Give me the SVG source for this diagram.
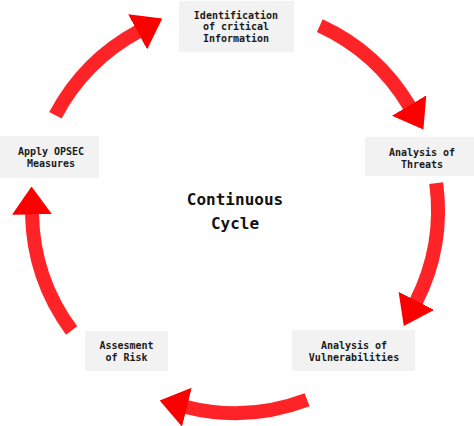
<svg xmlns="http://www.w3.org/2000/svg" width="474" height="426" viewBox="0 0 474 426">
<style>
.box{fill:#f2f2f2}
.lbl{font-family:"DejaVu Sans Mono","Liberation Mono",monospace;font-weight:bold;font-size:10px;fill:#1a1a1a;text-anchor:middle}
.ctr{font-family:"DejaVu Sans Mono","Liberation Mono",monospace;font-weight:bold;font-size:16px;fill:#111;text-anchor:middle}
.arc{fill:none;stroke:#fd2326;stroke-width:14;marker-end:url(#head)}
</style>
<defs>
<marker id="head" viewBox="0 0 28 40" refX="1" refY="20" markerWidth="28" markerHeight="40" markerUnits="userSpaceOnUse" orient="auto">
<path d="M0,0 L28,20 L0,40 Z" fill="#fc0000"/>
</marker>
</defs>
<rect width="474" height="426" fill="#ffffff"/>
<g id="connectors">
<path class="arc" d="M55.4,115.3 A203,203 0 0 1 138.5,31.4"/>
<path class="arc" d="M319.8,25.6 A203,203 0 0 1 409.6,106.4"/>
<path class="arc" d="M436.2,183.1 A203,203 0 0 1 416.0,301.8"/>
<path class="arc" d="M307.1,399.8 A203,203 0 0 1 185.9,407.0"/>
<path class="arc" d="M71.6,330.5 A203,203 0 0 1 32.0,213.5"/>
</g>
<g id="node-identification">
<rect class="box" x="179" y="1" width="115" height="51"/>
<text class="lbl" x="236" y="18.5">Identification</text>
<text class="lbl" x="236" y="30">of critical</text>
<text class="lbl" x="236" y="41.5">Information</text>
</g>
<g id="node-threats">
<rect class="box" x="365" y="137" width="114" height="39"/>
<text class="lbl" x="422" y="156">Analysis of</text>
<text class="lbl" x="422" y="167.5">Threats</text>
</g>
<g id="node-vulnerabilities">
<rect class="box" x="292" y="330" width="123" height="41"/>
<text class="lbl" x="354" y="349">Analysis of</text>
<text class="lbl" x="354" y="360.5">Vulnerabilities</text>
</g>
<g id="node-risk">
<rect class="box" x="85" y="331" width="83" height="40"/>
<text class="lbl" x="126.5" y="349">Assesment</text>
<text class="lbl" x="126.5" y="360.5">of Risk</text>
</g>
<g id="node-opsec">
<rect class="box" x="0" y="136" width="99" height="42"/>
<text class="lbl" x="51" y="155">Apply OPSEC</text>
<text class="lbl" x="51" y="166.5">Measures</text>
</g>
<g id="center-label">
<text class="ctr" x="235" y="205">Continuous</text>
<text class="ctr" x="235" y="229">Cycle</text>
</g>
</svg>
